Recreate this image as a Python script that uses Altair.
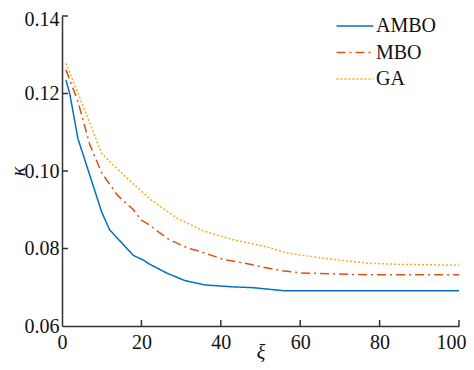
import altair as alt
import pandas as pd

series = ["AMBO", "MBO", "GA"]
colors = ["#0072BD", "#D95319", "#EDB120"]
dashes = [[1, 0], [9, 4, 2, 4], [2, 2]]

ambo_x = [1, 2, 4, 10, 12, 18, 20.5, 22, 26.5, 31, 36, 43, 48, 56, 100]
ambo_y = [0.1235, 0.1197, 0.1084, 0.0894, 0.0848, 0.0782, 0.0770, 0.0760,
          0.0736, 0.0717, 0.0706, 0.0701, 0.0699, 0.0691, 0.0691]

mbo_x = [1, 4, 7, 10, 14, 18, 20, 22, 24, 27, 32, 34, 40.6, 47, 53, 56, 60, 77, 100]
mbo_y = [0.1261, 0.1180, 0.1068, 0.0995, 0.0937, 0.0900, 0.0873, 0.0861, 0.0845,
         0.0823, 0.0800, 0.0795, 0.0772, 0.0760, 0.0747, 0.0742, 0.0737, 0.0732, 0.0732]

ga_x = [1, 6, 10, 13, 16, 22.5, 29, 35.5, 43, 48, 52, 56, 60, 70, 77, 85, 100]
ga_y = [0.1278, 0.1150, 0.1045, 0.1015, 0.0985, 0.0925, 0.0878, 0.0846, 0.0823,
        0.0812, 0.0803, 0.0790, 0.0783, 0.0770, 0.0762, 0.0759, 0.0757]

x_ticks = [0, 20, 40, 60, 80, 100]
y_ticks = [0.06, 0.08, 0.10, 0.12, 0.14]

rows = []
for name, xs, ys in [("AMBO", ambo_x, ambo_y), ("MBO", mbo_x, mbo_y), ("GA", ga_x, ga_y)]:
    for xv, yv in zip(xs, ys):
        rows.append({"series": name, "xi": xv, "kappa": yv})
df = pd.DataFrame(rows)

W, H = 397, 310
FONT = "Liberation Serif"

axis_style = dict(
    labelFont=FONT, labelFontSize=20, labelColor="#111",
    titleFont=FONT, titleFontSize=20, titleFontStyle="italic",
    titleFontWeight="normal", titleColor="#111",
    domainColor="#333", domainWidth=1.5, ticks=False, grid=False,
)

xscale = alt.Scale(domain=[0, 100], nice=False)
yscale = alt.Scale(domain=[0.06, 0.14], nice=False, zero=False)
xaxis = alt.Axis(values=x_ticks, title="ξ", labelPadding=6, titlePadding=-10,
                 labelFlush=False,
                 labelOffset={"expr": "datum.value == 100 ? -8 : 0"},
                 **axis_style)
yaxis = alt.Axis(values=y_ticks, format=".2f", title="κ", labelPadding=3,
                 titlePadding=-4,
                 labelOffset={"expr": "datum.value > 0.139 ? 3 : 0"},
                 **axis_style)

legend = alt.Legend(
    title=None, orient="none", legendX=283, legendY=0, padding=0,
    symbolType="M-2,0H2", symbolSize=342, symbolStrokeWidth=1.5,
    labelFont=FONT, labelFontSize=20, labelColor="#111", labelOffset=11,
    rowPadding=6.5,
)

lines = alt.Chart(df).mark_line(strokeWidth=1.5).encode(
    x=alt.X("xi:Q", scale=xscale, axis=xaxis),
    y=alt.Y("kappa:Q", scale=yscale, axis=yaxis),
    color=alt.Color("series:N", scale=alt.Scale(domain=series, range=colors),
                    sort=series, legend=legend),
    strokeDash=alt.StrokeDash("series:N", scale=alt.Scale(domain=series, range=dashes),
                              sort=series, legend=legend),
)

ytick_df = pd.DataFrame({"kappa": y_ticks[1:]})
xtick_df = pd.DataFrame({"xi": x_ticks[1:]})

yt = alt.Chart(ytick_df).mark_rule(color="#333", strokeWidth=1.5).encode(
    y=alt.Y("kappa:Q", scale=yscale, axis=yaxis),
    x=alt.value(0), x2=alt.value(6),
)
xt = alt.Chart(xtick_df).mark_rule(color="#333", strokeWidth=1.5).encode(
    x=alt.X("xi:Q", scale=xscale, axis=xaxis),
    y=alt.value(H), y2=alt.value(H - 6),
)

chart = alt.layer(lines, yt, xt).properties(
    width=W, height=H,
    autosize=alt.AutoSizeParams(type="none"),
    padding={"left": 54, "top": 8, "right": 7, "bottom": 36},
).configure_view(stroke=None)

chart.save("out.html", embed_options={"renderer": "svg", "actions": False})
